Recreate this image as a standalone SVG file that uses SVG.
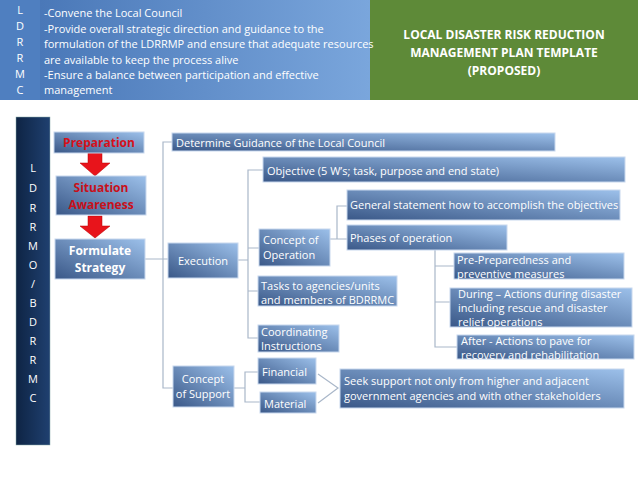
<svg xmlns="http://www.w3.org/2000/svg" width="638" height="478" viewBox="0 0 638 478">
<defs>
<linearGradient id="g" x1="0" y1="1" x2="1" y2="0"><stop offset="0" stop-color="#3a5888"/><stop offset="1" stop-color="#9cc0ea"/></linearGradient>
<linearGradient id="hd" x1="0" y1="0" x2="1" y2="0"><stop offset="0" stop-color="#4a78b8"/><stop offset="1" stop-color="#7aa6dc"/></linearGradient>
<linearGradient id="nv" x1="0" y1="0" x2="1" y2="0"><stop offset="0" stop-color="#0e2444"/><stop offset="1" stop-color="#1f4070"/></linearGradient>
<style>
.b{fill:url(#g);stroke:#c8d8ee;stroke-width:1}
.t{font-family:"Open Sans","Liberation Sans",sans-serif;fill:#fff;font-size:11px}
.tb{font-family:"Open Sans","Liberation Sans",sans-serif;font-weight:bold;font-size:12px;text-anchor:middle}
.c{fill:none;stroke:#a9b7c9;stroke-width:1.2}
</style>
</defs>
<rect width="638" height="478" fill="#fff"/>
<g id="header">
<rect x="0" y="0" width="40" height="100" fill="#4f7fc0"/>
<rect x="40" y="0" width="330" height="100" fill="url(#hd)"/>
<rect x="370" y="0" width="268" height="100" fill="#5e8a38"/>
<g class="t" text-anchor="middle" font-size="11"><text x="20" y="14">L</text><text x="20" y="30">D</text><text x="20" y="46">R</text><text x="20" y="62">R</text><text x="20" y="78">M</text><text x="20" y="94">C</text></g>
<g class="t"><text x="44" y="17">-Convene the Local Council</text><text x="44" y="33">-Provide overall strategic direction and guidance to the</text><text x="44" y="48">formulation of the LDRRMP and ensure that adequate resources</text><text x="44" y="64">are available to keep the process alive</text><text x="44" y="79">-Ensure a balance between participation and effective</text><text x="44" y="94">management</text></g>
<g class="tb" fill="#fff" font-size="13"><text x="504" y="39">LOCAL DISASTER RISK REDUCTION</text><text x="504" y="57">MANAGEMENT PLAN TEMPLATE</text><text x="504" y="75">(PROPOSED)</text></g>
</g>
<g id="side"><rect x="16" y="117" width="34" height="328" fill="url(#nv)" stroke="#8aa" stroke-width="0.5"/>
<g class="t" text-anchor="middle" font-size="13"><text x="33" y="172">L</text><text x="33" y="192">D</text><text x="33" y="212">R</text><text x="33" y="231">R</text><text x="33" y="250">M</text><text x="33" y="269">O</text><text x="33" y="288">/</text><text x="33" y="307">B</text><text x="33" y="326">D</text><text x="33" y="345">R</text><text x="33" y="364">R</text><text x="33" y="383">M</text><text x="33" y="402">C</text></g></g>
<g id="connectors">
<path class="c" d="M172 142H163V388H173M145 259H168M238 260H248M263 170H248V338H258M248 248H259M248 291H258M330 239H337V206H347M337 239H347M435 250V347H457M435 266H454M435 302H450M234 388H245M258 372H245V402H260M318 374L338 388L318 403"/>
<path d="M88 153h14v10h8l-15 13-15-13h8z M88 216h14v10h8l-15 12-15-12h8z" fill="#e8141b" stroke="#b00" stroke-width="0.5"/>
</g>
<g id="prep"><rect class="b" x="54" y="132" width="90" height="21"/><text class="tb" x="99" y="147" fill="#d6101a">Preparation</text></g>
<g id="sit"><rect class="b" x="56" y="176" width="90" height="39"/><text class="tb" x="101" y="192" fill="#c8101a">Situation</text><text class="tb" x="101" y="209" fill="#c8101a">Awareness</text></g>
<g id="form"><rect class="b" x="55" y="239" width="90" height="40"/><text class="tb" x="100" y="255" fill="#fff">Formulate</text><text class="tb" x="100" y="272" fill="#fff">Strategy</text></g>
<g id="guid"><rect class="b" x="172" y="133" width="383" height="18"/><text class="t" x="176" y="147" font-size="13">Determine Guidance of the Local Council</text></g>
<g id="exec"><rect class="b" x="168" y="243" width="70" height="35"/><text class="t" x="203" y="265" font-size="13" text-anchor="middle">Execution</text></g>
<g id="obj"><rect class="b" x="263" y="157" width="362" height="25"/><text class="t" x="267" y="175" font-size="13">Objective (5 W’s; task, purpose and end state)</text></g>
<g id="coo"><rect class="b" x="259" y="229" width="71" height="37"/><text class="t" x="263" y="244">Concept of</text><text class="t" x="263" y="259">Operation</text></g>
<g id="gen"><rect class="b" x="347" y="190" width="273" height="30"/><text class="t" x="350" y="209">General statement how to accomplish the objectives</text></g>
<g id="phase"><rect class="b" x="347" y="225" width="160" height="25"/><text class="t" x="350" y="242">Phases of operation</text></g>
<g id="tasks"><rect class="b" x="258" y="276" width="139" height="30"/><text class="t" x="261" y="290">Tasks to agencies/units</text><text class="t" x="261" y="304">and members of BDRRMC</text></g>
<g id="coord"><rect class="b" x="258" y="325" width="81" height="27"/><text class="t" x="261" y="336">Coordinating</text><text class="t" x="261" y="350">Instructions</text></g>
<g id="pre"><rect class="b" x="454" y="253" width="170" height="26"/><text class="t" x="457" y="264">Pre-Preparedness and</text><text class="t" x="457" y="278">preventive measures</text></g>
<g id="during"><rect class="b" x="450" y="288" width="182" height="39"/><text class="t" x="458" y="298">During – Actions during disaster</text><text class="t" x="458" y="312">including  rescue and disaster</text><text class="t" x="458" y="326">relief operations</text></g>
<g id="after"><rect class="b" x="457" y="335" width="177" height="24"/><text class="t" x="461" y="345">After - Actions to pave for</text><text class="t" x="461" y="359">recovery and rehabilitation</text></g>
<g id="cos"><rect class="b" x="173" y="366" width="61" height="41"/><text class="t" x="203" y="383" text-anchor="middle">Concept</text><text class="t" x="203" y="398" text-anchor="middle">of Support</text></g>
<g id="fin"><rect class="b" x="258" y="358" width="58" height="26"/><text class="t" x="262" y="376">Financial</text></g>
<g id="mat"><rect class="b" x="260" y="392" width="56" height="21"/><text class="t" x="264" y="408">Material</text></g>
<g id="seek"><rect class="b" x="340" y="369" width="284" height="39"/><text class="t" x="344" y="385">Seek support not only from higher and adjacent</text><text class="t" x="344" y="400">government agencies and with other stakeholders</text></g>
</svg>
